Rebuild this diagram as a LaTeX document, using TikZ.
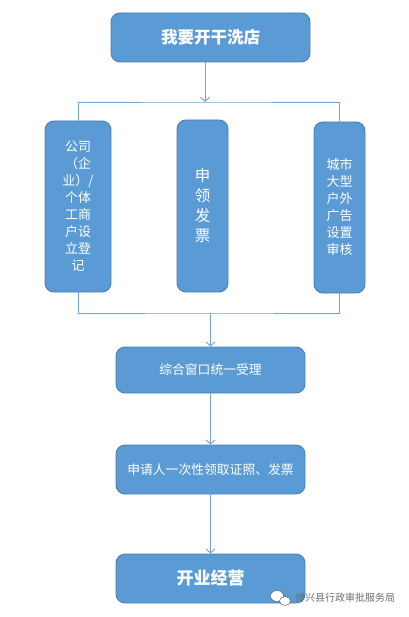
\documentclass[tikz,border=0pt]{standalone}
\usepackage{fontspec}
\setmainfont{Noto Sans CJK SC}
\usetikzlibrary{arrows.meta,positioning}

\definecolor{boxfill}{HTML}{5B9BD5}
\definecolor{boxline}{HTML}{4A7EB0}
\definecolor{linkblue}{HTML}{6FA6DA}
\definecolor{markgray}{HTML}{6E6E6E}

\tikzset{
  box/.style={draw=boxline, line width=0.9pt, fill=boxfill, rounded corners=9pt,
    text=white, align=center, inner sep=0pt},
  link/.style={draw=linkblue, line width=0.9pt},
  arrow/.style={link, -{Straight Barb[length=4pt,width=9pt]}}
}

\begin{document}
\begin{tikzpicture}[x=1pt,y=-1pt]
\useasboundingbox (0,0) rectangle (408,617);
% 顶部
\node[box, minimum width=199pt, minimum height=49pt,
  font=\bfseries\fontsize{16.5}{16.5}\selectfont] (shop) at (210.5,37.5) {我要开干洗店};
\coordinate (split) at (205,102);
\draw[arrow] (shop.south -| split) -- (split);
% 三个并列事项
\node[box, minimum width=66pt, minimum height=171pt,
  font=\fontsize{13}{17}\selectfont] (lic) at (78,206.5)
  {公司\\（企\\业）/\\个体\\工商\\户设\\立登\\记};
\node[box, minimum width=51pt, minimum height=172pt,
  font=\fontsize{15.5}{20}\selectfont] (inv) at (202.5,206) {申\\领\\发\\票};
\node[box, minimum width=51pt, minimum height=171pt,
  font=\fontsize{13}{17}\selectfont] (ad) at (339.5,207.5)
  {城市\\大型\\户外\\广告\\设置\\审核};
\draw[link] (lic.north) |- (split) -| (ad.north);
\coordinate (join) at (210.5,313);
\draw[link] (lic.south) |- (join) -| (ad.south);
% 窗口受理
\node[box, minimum width=189pt, minimum height=46pt,
  font=\fontsize{12.8}{12.8}\selectfont] (window) at (210.5,370) {综合窗口统一受理};
\draw[arrow] (join) -- (window.north);
\node[box, minimum width=189pt, minimum height=49pt,
  font=\fontsize{12.8}{12.8}\selectfont] (collect) at (210.5,469.5) {申请人一次性领取证照、发票};
\draw[arrow] (window.south) -- (collect.north);
\node[box, minimum width=189pt, minimum height=49pt,
  font=\bfseries\fontsize{17}{17}\selectfont] (open) at (210.5,578.5) {开业经营};
\draw[arrow] (collect.south) -- (open.north);
% 水印
\draw[markgray, fill=white, line width=0.6pt] (277,596) ellipse (6.5pt and 5.5pt);
\draw[markgray, fill=white, line width=0.6pt] (285,601) ellipse (5.5pt and 4.5pt);
\node[text=markgray, font=\fontsize{10}{10}\selectfont, anchor=west, inner sep=0pt]
  (mark) at (295,598) {博兴县行政审批服务局};
\end{tikzpicture}
\end{document}
